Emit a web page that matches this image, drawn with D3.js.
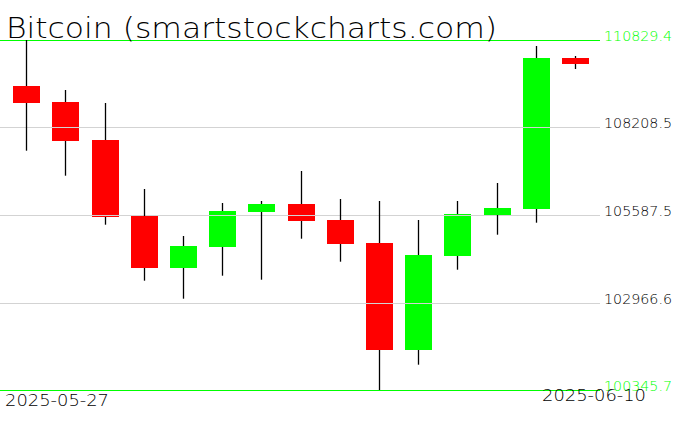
<!DOCTYPE html>
<html><head><meta charset="utf-8">
<script src="https://cdn.jsdelivr.net/npm/d3@7"></script>
<style>html,body{margin:0;padding:0;background:#fff;}svg{display:block;}</style>
</head><body>
<svg id="c" width="676" height="431"></svg>
<script>
const dates = ["2025-05-27","2025-05-28","2025-05-29","2025-05-30","2025-05-31","2025-06-01","2025-06-02","2025-06-03","2025-06-04","2025-06-05","2025-06-06","2025-06-07","2025-06-08","2025-06-09","2025-06-10"];
const openV  = [109451.5,108972.3,107834.1,105566.6,104009.1,104638.1,105686.4,105917.1,105437.8,104748.9,101552.9,104368.5,105587.6,105776.3,110290.2];
const highV  = [110829.4,109331.7,108942.3,106366.4,104958.6,105947.0,106007.0,106905.5,106066.9,106007.0,105437.8,106007.0,106546.1,110649.7,110350.1];
const lowV   = [107513.6,106764.8,105297.0,103619.7,103080.5,103769.5,103649.6,104877.7,104188.8,100345.7,101103.6,103949.2,104997.5,105357.0,109960.8];
const closeV = [108951.3,107813.1,105536.7,104009.1,104659.0,105707.4,105917.1,105416.9,104728.0,101552.9,104389.5,105617.6,105797.2,110290.2,110119.5];
const tickValues = [110829.4,108208.5,105587.5,102966.6,100345.7];
const tickLabels = ["110829.4","108208.5","105587.5","102966.6","100345.7"];
const dateLabels = ["2025-05-27","2025-06-10"];
const title = "Bitcoin (smartstockcharts.com)";

const FONT = "'DejaVu Sans ExtraLight','DejaVu Sans',sans-serif";
const svg = d3.select("#c");
const x = d3.scaleBand().domain(dates).range([7,595]).padding(0);
const y = d3.scaleLinear().domain([100345.7,110829.4]).range([390,40]);
const cx = d => Math.floor(x(d) + x.bandwidth()/2) + 0.5;
const bodyW = 27;

const data = dates.map((d,i)=>({d,o:openV[i],h:highV[i],l:lowV[i],c:closeV[i]}));

// bodies
svg.append("g").selectAll("rect").data(data).join("rect")
  .attr("x", d => cx(d.d) - bodyW/2)
  .attr("width", bodyW)
  .attr("y", d => Math.round(y(Math.max(d.o,d.c))))
  .attr("height", d => Math.max(2, Math.round(y(Math.min(d.o,d.c))) - Math.round(y(Math.max(d.o,d.c)))))
  .attr("fill", d => d.c >= d.o ? "#00ff00" : "#ff0000");

// gridlines
const gy = v => Math.round(y(v)) + 0.5;
svg.append("g").selectAll("line").data(tickValues).join("line")
  .attr("x1",0).attr("x2",600)
  .attr("y1", gy).attr("y2", gy)
  .attr("stroke", (v,i) => (i===0 || i===tickValues.length-1) ? "#00ff00" : "#d3d3d3")
  .attr("stroke-width", 1.2);

// wicks
const wg = svg.append("g").attr("stroke","#000").attr("stroke-width",1.3);
wg.selectAll("line.up").data(data).join("line").attr("class","up")
  .attr("x1", d=>cx(d.d)).attr("x2", d=>cx(d.d))
  .attr("y1", d=>y(d.h)).attr("y2", d=>Math.round(y(Math.max(d.o,d.c))));
wg.selectAll("line.dn").data(data).join("line").attr("class","dn")
  .attr("x1", d=>cx(d.d)).attr("x2", d=>cx(d.d))
  .attr("y1", d=>Math.round(y(Math.min(d.o,d.c)))).attr("y2", d=>y(d.l));

// right labels
svg.append("g").selectAll("text").data(tickValues).join("text")
  .attr("x", 604).attr("y", v => Math.round(y(v)) + 1)
  .attr("font-family",FONT).attr("font-weight",200).attr("font-size",14.5)
  .attr("textLength", 68).attr("lengthAdjust","spacingAndGlyphs")
  .attr("fill", (v,i) => (i===0 || i===tickValues.length-1) ? "#00ff00" : "#000")
  .text((v,i)=>tickLabels[i]);

// date labels
svg.append("text").attr("x",5).attr("y",406)
  .attr("font-family",FONT).attr("font-weight",200).attr("font-size",16)
  .attr("textLength",104).attr("lengthAdjust","spacingAndGlyphs")
  .text(dateLabels[0]);
svg.append("text").attr("x",542).attr("y",401)
  .attr("font-family",FONT).attr("font-weight",200).attr("font-size",16)
  .attr("textLength",104).attr("lengthAdjust","spacingAndGlyphs")
  .text(dateLabels[1]);

// title
svg.append("text").attr("x",6).attr("y",37.5)
  .attr("font-family",FONT).attr("font-weight",200).attr("font-size",29)
  .attr("textLength",491).attr("lengthAdjust","spacingAndGlyphs")
  .text(title);
</script>
</body></html>
